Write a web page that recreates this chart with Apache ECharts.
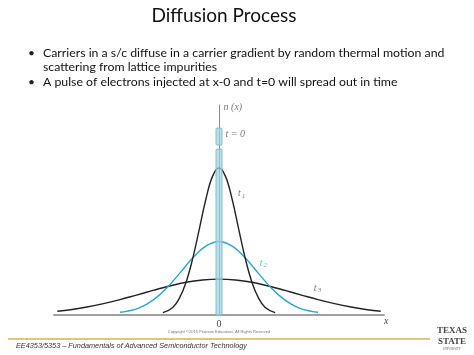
<!DOCTYPE html>
<html><head><meta charset="utf-8">
<script src="https://cdn.jsdelivr.net/npm/echarts@6/dist/echarts.min.js"></script>
<style>html,body{margin:0;padding:0;background:#fff}#c{width:474px;height:355px}</style>
</head><body><div id="c"></div>
<script>
// Curve t1 (narrow, tall)
const t1X=[-1.7,-1.4,-1.2,-1.0,-0.8,-0.6,-0.4,-0.2,0,0.2,0.4,0.6,0.8,1.0,1.2,1.4,1.7];
const t1Y=[1.1,3.6,8.0,15.5,26.7,40.7,55.0,65.9,70,65.9,55.0,40.7,26.7,15.5,8.0,3.6,1.1];
// Curve t2 (blue, medium)
const t2X=[-3.0,-2.8,-2.4,-2.0,-1.6,-1.2,-0.8,-0.4,0,0.4,0.8,1.2,1.6,2.0,2.4,2.8,3.0];
const t2Y=[1.3,1.7,3.5,7.1,12.6,19.7,27.1,32.8,35,32.8,27.1,19.7,12.6,7.1,3.5,1.7,1.3];
// Curve t3 (wide, flat)
const t3X=[-4.9,-4.5,-4.0,-3.5,-3.0,-2.5,-2.0,-1.5,-1.0,-0.5,0,0.5,1.0,1.5,2.0,2.5,3.0,3.5,4.0,4.5,4.9];
const t3Y=[1.8,2.5,3.8,5.4,7.3,9.5,11.7,13.8,15.6,16.7,17.1,16.7,15.6,13.8,11.7,9.5,7.3,5.4,3.8,2.5,1.8];
// t = 0 pulse, drawn in two pieces around an axis break: [x, from, to]
const pulseLower=[0,0,79];
const pulseUpper=[0,80.9,89];
// tick labels
const xTickLabels={0:'0'};

const title='Diffusion Process';
const bullets=[
 'Carriers in a s/c diffuse in a carrier gradient by random thermal motion and',
 'scattering from lattice impurities',
 'A pulse of electrons injected at x-0 and t=0 will spread out in time'
];
const footer='EE4353/5353 – Fundamentals of Advanced Semiconductor Technology';

const zip=(xs,ys)=>xs.map((x,i)=>[x,ys[i]]);
const chart=echarts.init(document.getElementById('c'));
const serif='"Liberation Serif","DejaVu Serif",serif';
const textSeries=(txt,coord,color)=>({type:'scatter',data:[coord],symbolSize:1,z:10,silent:true,
  itemStyle:{color:'rgba(0,0,0,0)'},
  label:{show:true,position:'inside',formatter:txt,color:color||'#555',fontFamily:serif,fontStyle:'italic',fontSize:10,
   rich:{s:{fontSize:7,fontFamily:serif,fontStyle:'italic',color:color||'#555',padding:[5,0,0,1]}}}});
const pulseItem=(api,style)=>{
  const a=api.coord([api.value(0),api.value(1)]), b=api.coord([api.value(0),api.value(2)]);
  return {type:'rect',shape:{x:a[0]-3,y:b[1],width:6,height:a[1]-b[1],r:1},style:style};
};
const pulseStyle={fill:'rgba(160,210,224,0.72)',stroke:'#86bccb',lineWidth:1};

chart.setOption({
 animation:false,
 backgroundColor:'#fff',
 grid:{left:54,right:90,top:105,bottom:40},
 xAxis:{type:'value',min:-5,max:5,interval:5,
   axisLine:{show:true,lineStyle:{color:'#a0a0a0',width:2}},
   axisTick:{show:false},splitLine:{show:false},
   axisLabel:{formatter:v=>xTickLabels[v]||'',margin:4,color:'#444',fontFamily:serif,fontSize:10},
   name:'x',nameLocation:'end',nameGap:0,
   nameTextStyle:{color:'#444',fontFamily:serif,fontStyle:'italic',fontSize:10,verticalAlign:'top',padding:[1,0,0,0]}},
 yAxis:{type:'value',min:0,max:100,
   axisLine:{show:true,onZero:true,lineStyle:{color:'#8a8a8a',width:1}},
   axisTick:{show:false},axisLabel:{show:false},splitLine:{show:false}},
 series:[
  {type:'line',data:zip(t3X,t3Y),smooth:0.4,symbol:'none',lineStyle:{color:'#222',width:1.4},z:2},
  {type:'line',data:zip(t2X,t2Y),smooth:0.4,symbol:'none',lineStyle:{color:'#2ba5c6',width:1.4},z:3},
  {type:'line',data:zip(t1X,t1Y),smooth:0.4,symbol:'none',lineStyle:{color:'#222',width:1.4},z:4},
  {type:'custom',data:[pulseLower,pulseUpper],z:6,silent:true,
   renderItem:(p,api)=>pulseItem(api,pulseStyle)},
  textSeries('{s|}t{s|1}',[0.67,58]),
  textSeries('{s|}t{s|2}',[1.33,24.8],'#2ba5c6'),
  textSeries('{s|}t{s|3}',[2.97,12.9]),
  textSeries('t = 0',[0.49,86.2]),
  textSeries('n (x)',[0.42,99])
 ],
 graphic:[
  {type:'text',x:224,y:16,style:{text:title,font:'19px Lato, "Open Sans", sans-serif',fill:'#111',align:'center',verticalAlign:'middle'}},
  {type:'text',x:28,y:53,style:{text:'•',font:'12px Lato',fill:'#222',align:'left',verticalAlign:'middle'}},
  {type:'text',x:43,y:53,style:{text:bullets[0],font:'12.3px Lato, "Open Sans", sans-serif',fill:'#111',verticalAlign:'middle'}},
  {type:'text',x:43,y:67,style:{text:bullets[1],font:'12.3px Lato, "Open Sans", sans-serif',fill:'#111',verticalAlign:'middle'}},
  {type:'text',x:28,y:82,style:{text:'•',font:'12px Lato',fill:'#222',align:'left',verticalAlign:'middle'}},
  {type:'text',x:43,y:82,style:{text:bullets[2],font:'12.3px Lato, "Open Sans", sans-serif',fill:'#111',verticalAlign:'middle'}},
  {type:'text',x:219,y:332,style:{text:'Copyright ©2015 Pearson Education, All Rights Reserved',font:'4px sans-serif',fill:'#777',align:'center',verticalAlign:'middle'}},
  {type:'line',shape:{x1:8,y1:339,x2:430,y2:339},style:{stroke:'#d2b062',lineWidth:1.5}},
  {type:'text',x:16,y:346,style:{text:footer,font:'italic 7.3px "Liberation Sans", Arial, sans-serif',fill:'#333',verticalAlign:'middle'}},
  {type:'text',x:452,y:331,style:{text:'TEXAS',font:'bold 9px "Liberation Serif", serif',fill:'#444',align:'center',verticalAlign:'middle'}},
  {type:'text',x:452,y:342,style:{text:'STATE',font:'bold 9px "Liberation Serif", serif',fill:'#444',align:'center',verticalAlign:'middle'}},
  {type:'text',x:452,y:349,style:{text:'UNIVERSITY',font:'3px "Liberation Serif", serif',fill:'#666',align:'center',verticalAlign:'middle'}}
 ]
});
</script></body></html>
